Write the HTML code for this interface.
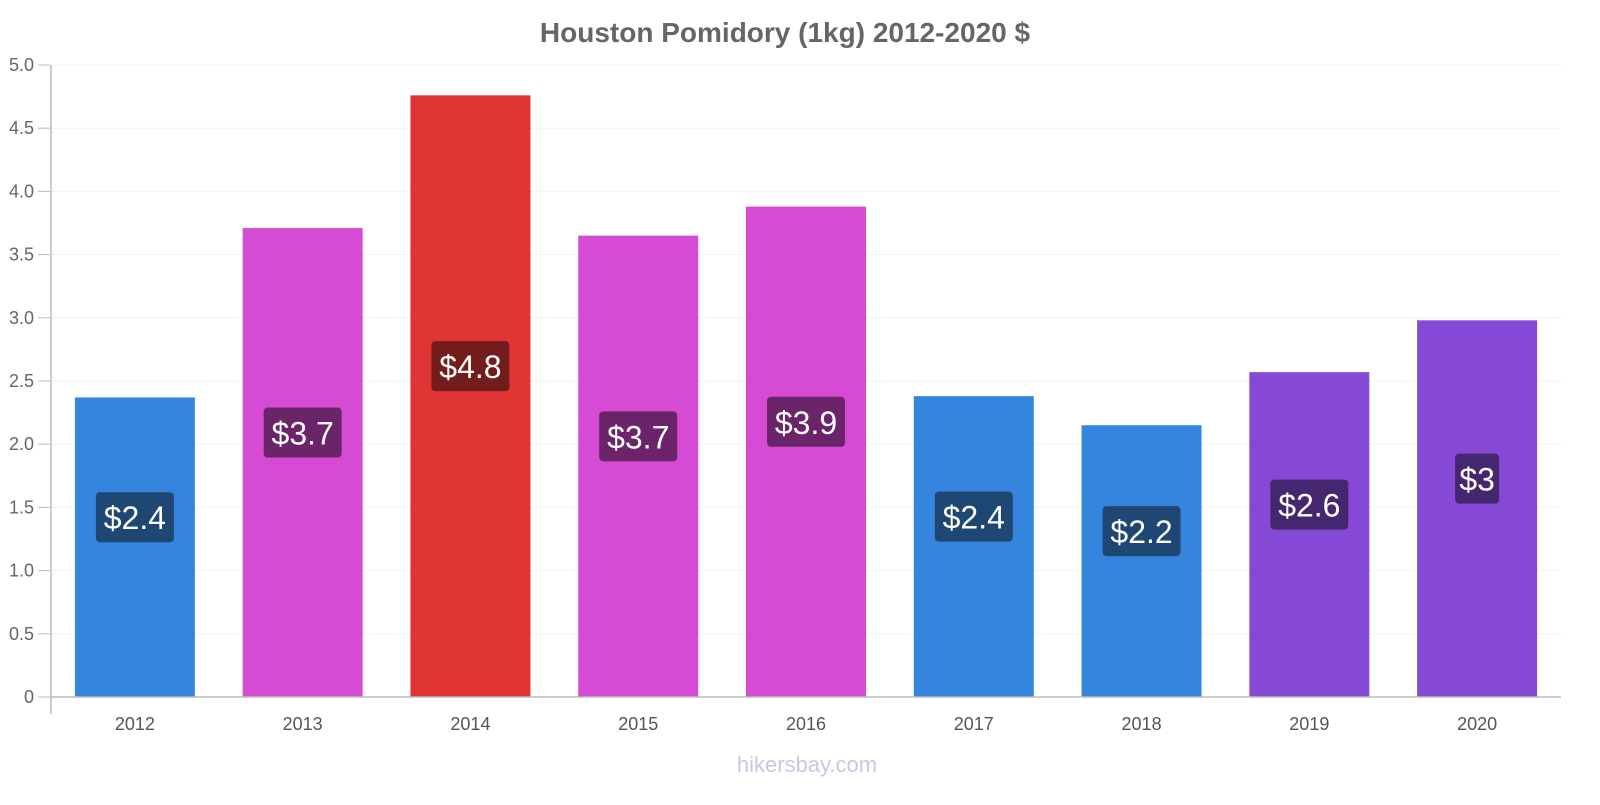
<!DOCTYPE html>
<html><head><meta charset="utf-8"><style>
body{margin:0;background:#fff;width:1600px;height:800px;overflow:hidden;font-family:"Liberation Sans",sans-serif}
</style></head><body>
<svg id="chart" width="1600" height="800" xmlns="http://www.w3.org/2000/svg">
<text x="785" y="42" text-anchor="middle" font-size="28" font-weight="bold" fill="#666">Houston Pomidory (1kg) 2012-2020 $</text>
<g id="grid"></g><g id="bars"></g><g id="labels"></g>
<text x="807" y="772" text-anchor="middle" font-size="22" fill="#c8c8e0">hikersbay.com</text>
</svg>
<script>
const categories=["2012","2013","2014","2015","2016","2017","2018","2019","2020"];
const values=[2.37,3.71,4.76,3.65,3.88,2.38,2.15,2.57,2.98];
const valueLabels=["$2.4","$3.7","$4.8","$3.7","$3.9","$2.4","$2.2","$2.6","$3"];
const barColors=["#3584de","#d64bd3","#e03535","#d64bd3","#d64bd3","#3584de","#3584de","#8549d6","#8549d6"];
const labelColors=["#1f4774","#6b2469","#731c1c","#6b2469","#6b2469","#1f4774","#1f4774","#45276f","#45276f"];
const yTicks=[0,0.5,1,1.5,2,2.5,3,3.5,4,4.5,5];
const yTickLabels=["0","0.5","1.0","1.5","2.0","2.5","3.0","3.5","4.0","4.5","5.0"];
const NS="http://www.w3.org/2000/svg";
const x0=51,x1=1561,y0=697,y5=65;
const yS=v=>y0-(y0-y5)*v/5;
const step=(x1-x0)/categories.length;
const xC=i=>x0+step*(i+0.5);
function mk(t,a,p){const e=document.createElementNS(NS,t);for(const k in a)e.setAttribute(k,a[k]);p.appendChild(e);return e;}
const grid=document.getElementById('grid'),bars=document.getElementById('bars'),labels=document.getElementById('labels');
yTicks.forEach((v,i)=>{
  if(v>0){const g=mk('line',{x1:x0,x2:x1,y1:yS(v),y2:yS(v),stroke:'#f2f2f2'},grid);
  
  }
  const t=mk('text',{x:34,y:yS(v)+6,'text-anchor':'end','font-size':18,fill:'#666'},grid);
  t.textContent=yTickLabels[i];
  
  
  const tk=mk('line',{x1:38,x2:50,y1:yS(v),y2:yS(v),stroke:'#bbb'},grid);
  
  
});
const ya=mk('line',{x1:51,x2:51,y1:65,y2:714,stroke:'#bbb','stroke-width':1.5},grid);


categories.forEach((c,i)=>{
  const w=120,top=yS(values[i]);
  const r=mk('rect',{x:xC(i)-w/2,y:top,width:w,height:y0-top,fill:barColors[i]},bars);
  
  
  const t=mk('text',{x:xC(i),y:730,'text-anchor':'middle','font-size':18,fill:'#555'},labels);
  t.textContent=c;
  
  
  const ly=(top+y0)/2-30;
  const lw=valueLabels[i].length*17+10;
  const b=mk('rect',{x:xC(i)-lw/2,y:ly-25,width:lw,height:50,rx:4,fill:labelColors[i]},labels);
  
  
  const vt=mk('text',{x:xC(i),y:ly+12,'text-anchor':'middle','font-size':32,fill:'#fff'},labels);
  vt.textContent=valueLabels[i];
  
  
});
const xa=mk('line',{x1:51,x2:1561,y1:y0,y2:y0,stroke:'#bbb','stroke-width':1.5},labels);


</script>
</body></html>
